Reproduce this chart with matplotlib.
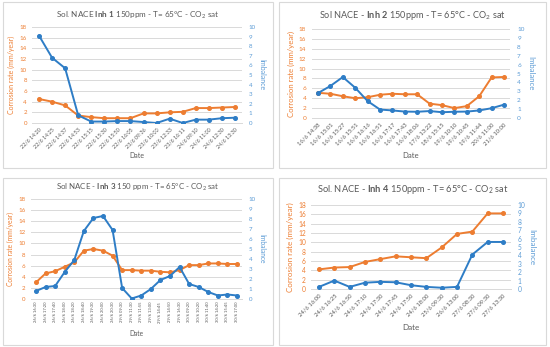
import matplotlib
matplotlib.use("Agg")
import matplotlib.pyplot as plt
from matplotlib.patches import Rectangle

plt.rcParams['font.family'] = ['Lato', 'DejaVu Sans']
plt.rcParams['mathtext.fontset'] = 'custom'
plt.rcParams['mathtext.rm'] = 'Lato'
plt.rcParams['mathtext.bf'] = 'Lato:bold'
plt.rcParams['mathtext.it'] = 'Lato:italic'

# ---------------- data ----------------
dates1 = ["22/6 14:20", "22/6 14:25", "22/6 14:37", "22/6 14:53", "22/6 15:15", "22/6 15:30",
          "22/6 15:50", "22/6 16:05", "23/6 09:36", "23/6 10:00", "23/6 12:33", "23/6 16:11",
          "24/6 09:10", "24/6 11:00", "24/6 12:30", "24/6 13:30"]
corr1 = [4.5, 4.0, 3.3, 1.4, 1.1, 0.9, 0.9, 0.9, 1.8, 1.8, 2.0, 2.1, 2.8, 2.8, 2.9, 3.0]
imb1 = [9.1, 6.8, 5.7, 0.8, 0.15, 0.15, 0.2, 0.2, 0.1, 0.0, 0.45, 0.0, 0.35, 0.35, 0.5, 0.55]

dates2 = ["16/6 14:38", "16/6 15:01", "16/6 15:27", "16/6 15:51", "16/6 16:16", "16/6 16:51",
          "16/6 17:17", "16/6 17:43", "16/6 18:06", "17/6 13:22", "18/6 15:15", "19/6 10:10",
          "19/6 10:45", "19/6 11:44", "20/6 11:00", "21/6 10:00"]
corr2 = [5.1, 4.9, 4.4, 4.0, 4.2, 4.7, 4.9, 4.8, 4.8, 2.9, 2.6, 2.0, 2.4, 4.4, 8.2, 8.3]
imb2 = [2.8, 3.6, 4.6, 3.4, 1.9, 0.95, 0.85, 0.72, 0.7, 0.78, 0.65, 0.7, 0.72, 0.85, 1.1, 1.5]

dates3 = ["26/6 16:30", "26/6 17:20", "26/6 17:40", "26/6 18:00", "26/6 18:20", "26/6 18:40",
          "26/6 19:30", "26/6 20:00", "26/6 20:30", "29/6 09:30", "29/6 11:30", "29/6 11:55",
          "29/6 13:00", "29/6 14:45", "29/6 14:50", "29/6 16:30", "30/6 09:20", "30/6 10:20",
          "30/6 11:40", "30/6 14:20", "30/6 15:45", "30/6 17:00"]
corr3 = [3.0, 4.6, 5.0, 5.8, 6.6, 8.7, 9.0, 8.7, 7.8, 5.2, 5.2, 5.1, 5.1, 4.9, 4.8, 5.2,
         6.1, 6.1, 6.4, 6.4, 6.3, 6.3]
imb3 = [0.8, 1.2, 1.3, 2.7, 3.9, 6.8, 8.1, 8.3, 6.9, 1.1, 0.05, 0.35, 1.0, 1.9, 2.3, 3.2,
        1.5, 1.2, 0.7, 0.35, 0.45, 0.35]

dates4 = ["24/6 16:00", "24/6 16:25", "24/6 16:50", "24/6 17:10", "24/6 17:30", "24/6 17:45",
          "24/6 17:50", "24/6 18:00", "25/6 09:30", "26/6 13:00", "27/6 08:30", "27/6 09:30",
          "27/6 13:30"]
corr4 = [4.2, 4.6, 4.7, 5.8, 6.4, 7.0, 6.8, 6.6, 8.9, 11.8, 12.3, 16.2, 16.2]
imb4 = [0.25, 1.0, 0.25, 0.75, 0.85, 0.8, 0.45, 0.25, 0.15, 0.25, 4.1, 5.6, 5.6]

titles = [r"Sol. NACE $\mathbf{Inh\ 1}$ 150ppm - T= 65°C - CO$_2$ sat",
          r"Sol NACE - $\mathbf{Inh\ 2}$ 150ppm - T= 65°C - CO$_2$ sat",
          r"Sol NACE - $\mathbf{Inh\ 3}$ 150 ppm - T= 65°C - CO$_2$ sat",
          r"Sol. NACE - $\mathbf{Inh\ 4}$ 150ppm - T= 65°C - CO$_2$ sat"]

ORANGE = '#ED7D31'
BLUE = '#2E7DC6'
LBLUE = '#5B9BD5'
GRID = '#D9D9D9'
TXT = '#595959'

W, H = 550, 347
fig = plt.figure(figsize=(W / 100, H / 100), dpi=100)


def fx(x):
    return x / W


def fy(y):
    return 1 - y / H


def panel(dates, corr, imb, title, box, xfirst, xlast, y0, y18, title_y, title_fs,
          date_y, rot, tick_fs, xtick_fs, lab_fs, xpad):
    n = len(dates)
    sp = (xlast - xfirst) / (n - 1)
    left = xfirst - sp / 2
    right = xlast + sp / 2
    bx0, by0, bx1, by1 = box
    fig.patches.append(Rectangle((fx(bx0), fy(by1)), fx(bx1 - bx0), fy(by0) - fy(by1),
                                 transform=fig.transFigure, fill=False,
                                 edgecolor=GRID, linewidth=0.8))
    ax = fig.add_axes([fx(left), fy(y0), fx(right - left), fy(y18) - fy(y0)])
    ax2 = ax.twinx()
    x = list(range(n))
    ax.plot(x, corr, color=ORANGE, marker='o', markersize=2.6, linewidth=1.4, zorder=3)
    ax2.plot(x, imb, color=BLUE, marker='o', markersize=2.6, linewidth=1.4, zorder=3)
    ax.set_xlim(-0.5, n - 0.5)
    ax.set_ylim(0, 18)
    ax2.set_ylim(0, 10)
    ax.set_yticks(range(0, 19, 2))
    ax2.set_yticks(range(0, 11, 1))
    ax.set_xticks(x)
    if rot == 90:
        ax.set_xticklabels(dates, rotation=90, ha='center', va='top', fontsize=xtick_fs,
                           color=TXT)
    else:
        ax.set_xticklabels(dates, rotation=45, ha='right', va='top', rotation_mode='anchor',
                           fontsize=xtick_fs, color=TXT)
    ax.grid(axis='y', color=GRID, linewidth=0.7)
    ax.set_axisbelow(True)
    for a in (ax, ax2):
        for s in a.spines.values():
            s.set_visible(False)
        a.tick_params(length=0)
    ax.spines['bottom'].set_visible(True)
    ax.spines['bottom'].set_color(GRID)
    ax.spines['bottom'].set_linewidth(0.7)
    ax.tick_params(axis='y', labelsize=tick_fs, labelcolor=ORANGE, pad=4)
    ax.tick_params(axis='x', pad=xpad)
    ax2.tick_params(axis='y', labelsize=tick_fs, labelcolor=LBLUE, pad=5)
    ax.set_ylabel("Corrosion rate (mm/year)", color=ORANGE, fontsize=lab_fs, labelpad=3)
    ax2.set_ylabel("Imbalance", color=LBLUE, fontsize=lab_fs, rotation=270, labelpad=7)
    cx = (bx0 + bx1) / 2
    fig.text(fx(cx), fy(title_y), title, ha='center', va='center', fontsize=title_fs, color=TXT)
    fig.text(fx((left + right) / 2), fy(date_y), "Date", ha='center', va='center',
             fontsize=lab_fs, color=TXT)
    return ax


panel(dates1, corr1, imb1, titles[0], (3, 2, 273, 168), 39, 235, 123, 27, 15, 5.9,
      156, 45, 4.4, 3.9, 5.0, 3)
panel(dates2, corr2, imb2, titles[1], (279, 2, 546, 168), 318, 504, 118, 29, 15, 6.6,
      155, 45, 4.6, 4.2, 5.6, 3)
panel(dates3, corr3, imb3, titles[2], (3, 178, 273, 345), 36, 237, 299, 199, 187, 5.7,
      333, 90, 4.4, 3.0, 4.8, 2)
panel(dates4, corr4, imb4, titles[3], (279, 178, 546, 345), 319, 503, 289, 205, 190, 6.7,
      327, 45, 4.8, 4.2, 5.8, 3)

fig.savefig("out.png", dpi=100)
